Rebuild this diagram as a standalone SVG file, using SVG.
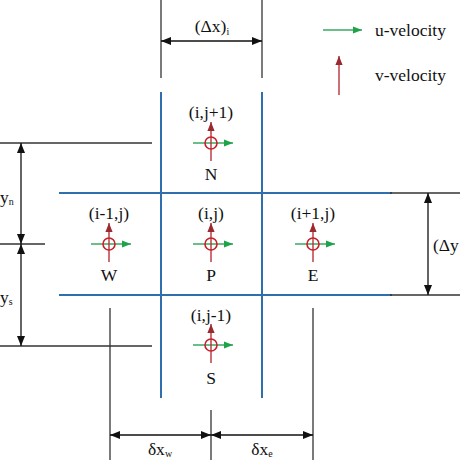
<svg xmlns="http://www.w3.org/2000/svg" width="460" height="460" viewBox="0 0 460 460">
<defs>
<marker id="ah" viewBox="0 0 10 8" refX="10" refY="4" markerWidth="10" markerHeight="8" markerUnits="userSpaceOnUse" orient="auto-start-reverse"><path d="M0,0 L10,4 L0,8 Z" fill="#111"/></marker>
<marker id="ag" viewBox="0 0 10 8" refX="10" refY="4" markerWidth="9" markerHeight="8" markerUnits="userSpaceOnUse" orient="auto"><path d="M0,0 L10,4 L0,8 Z" fill="#1fa34a"/></marker>
<marker id="ar" viewBox="0 0 10 8" refX="10" refY="4" markerWidth="9" markerHeight="8" markerUnits="userSpaceOnUse" orient="auto"><path d="M0,0 L10,4 L0,8 Z" fill="#9b2a30"/></marker>
</defs>
<style>
.grid{stroke:#2f6fae;stroke-width:2;fill:none}
.ext{stroke:#333;stroke-width:1.3;fill:none}
.dim{stroke:#111;stroke-width:1.3;fill:none;marker-start:url(#ah);marker-end:url(#ah)}
.u{stroke:#3aa860;stroke-width:1.4;marker-end:url(#ag)}
.v{stroke:#b8333a;stroke-width:1.4;marker-end:url(#ar)}
.c{stroke:#c8202a;stroke-width:1.6;fill:none}
text{font-family:"Liberation Serif","DejaVu Serif",serif;font-size:17.5px;fill:#111}
.m{text-anchor:middle}
.sub{font-size:10px}
</style>
<rect width="460" height="460" fill="#fff"/>
<g id="grid">
<line class="grid" x1="161" y1="92" x2="161" y2="398"/>
<line class="grid" x1="262" y1="92" x2="262" y2="398"/>
<line class="grid" x1="59" y1="193" x2="392" y2="193"/>
<line class="grid" x1="59" y1="295" x2="392" y2="295"/>
</g>
<g id="connectors">
<line class="ext" x1="161" y1="0" x2="161" y2="78"/>
<line class="ext" x1="262" y1="0" x2="262" y2="78"/>
<line class="dim" x1="161" y1="41" x2="262" y2="41"/>
<line class="ext" x1="0" y1="143" x2="152" y2="143"/>
<line class="ext" x1="0" y1="244" x2="45" y2="244"/>
<line class="ext" x1="0" y1="346" x2="152" y2="346"/>
<line class="dim" x1="21" y1="143" x2="21" y2="244"/>
<line class="dim" x1="21" y1="244" x2="21" y2="346"/>
<line class="ext" x1="390" y1="193" x2="460" y2="193"/>
<line class="ext" x1="390" y1="295" x2="460" y2="295"/>
<line class="dim" x1="428" y1="193" x2="428" y2="295"/>
<line class="ext" x1="110" y1="308" x2="110" y2="460"/>
<line class="ext" x1="313" y1="308" x2="313" y2="460"/>
<line class="ext" x1="211" y1="410" x2="211" y2="460"/>
<line class="dim" x1="110" y1="435" x2="211" y2="435"/>
<line class="dim" x1="211" y1="435" x2="313" y2="435"/>
</g>
<g id="labels">
<text x="212" y="32" class="m">(Δx)<tspan class="sub" dy="3">i</tspan></text>
<text x="0" y="203">y<tspan class="sub" dy="2">n</tspan></text>
<text x="0" y="303">y<tspan class="sub" dy="2">s</tspan></text>
<text x="433" y="251">(Δy</text>
<text x="160" y="455" class="m">δx<tspan class="sub" dy="2">w</tspan></text>
<text x="262" y="455" class="m">δx<tspan class="sub" dy="2">e</tspan></text>
</g>
<g id="legend">
<line class="u" x1="323" y1="30" x2="362" y2="30"/>
<text x="375" y="36">u-velocity</text>
<line class="v" x1="339" y1="95" x2="339" y2="56"/>
<text x="375" y="81">v-velocity</text>
</g>
<g id="node-N">
<line class="u" x1="193" y1="143" x2="233" y2="143"/>
<line class="v" x1="211" y1="161" x2="211" y2="122"/>
<circle class="c" cx="211" cy="143" r="6"/>
<text x="211" y="118" class="m">(i,j+1)</text>
<text x="211" y="180" class="m">N</text>
</g>
<g id="node-W">
<line class="u" x1="91" y1="244" x2="131" y2="244"/>
<line class="v" x1="109" y1="262" x2="109" y2="223"/>
<circle class="c" cx="109" cy="244" r="6"/>
<text x="109" y="219" class="m">(i-1,j)</text>
<text x="109" y="281" class="m">W</text>
</g>
<g id="node-P">
<line class="u" x1="193" y1="244" x2="233" y2="244"/>
<line class="v" x1="211" y1="262" x2="211" y2="223"/>
<circle class="c" cx="211" cy="244" r="6"/>
<text x="211" y="219" class="m">(i,j)</text>
<text x="211" y="281" class="m">P</text>
</g>
<g id="node-E">
<line class="u" x1="295" y1="244" x2="335" y2="244"/>
<line class="v" x1="313" y1="262" x2="313" y2="223"/>
<circle class="c" cx="313" cy="244" r="6"/>
<text x="313" y="219" class="m">(i+1,j)</text>
<text x="313" y="281" class="m">E</text>
</g>
<g id="node-S">
<line class="u" x1="193" y1="345" x2="233" y2="345"/>
<line class="v" x1="211" y1="363" x2="211" y2="324"/>
<circle class="c" cx="211" cy="345" r="6"/>
<text x="211" y="321" class="m">(i,j-1)</text>
<text x="211" y="384" class="m">S</text>
</g>
</svg>
